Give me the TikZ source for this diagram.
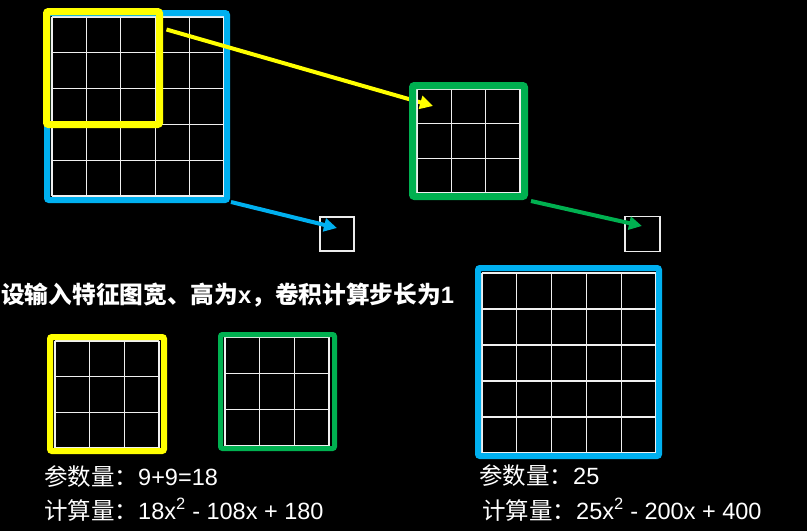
\documentclass[tikz,border=0pt]{standalone}
\usepackage{fontspec}
\setmainfont{Liberation Sans}
\newfontfamily\cjk{Noto Sans CJK SC}
\usepackage{xcolor}
\usetikzlibrary{arrows.meta, positioning, calc}
\definecolor{cyel}{HTML}{FFFF00}
\definecolor{cblue}{HTML}{00B0F0}
\definecolor{cgreen}{HTML}{00B050}
\tikzset{
    frame/.style={rectangle, rounded corners=2pt, inner sep=0pt, fill=none},
    cellline/.style={draw=white!88!gray, line width=1.3pt},
    unitbox/.style={rectangle, draw=white!85!gray, line width=1.5pt, minimum size=35pt, inner sep=0pt},
    arrow/.style={-{Triangle[length=13pt, width=13pt]}, line width=4pt},
    label/.style={inner sep=0pt, anchor=base west, text=white, font=\fontsize{23.5}{28}\selectfont}
}
% n x n grid of cells inside (x0,y0)-(x1,y1)
\newcommand{\cellgrid}[5]{%
    \foreach \k in {0,...,#5} {
        \draw[cellline] ({#1+(#3-#1)*\k/#5},#2) -- ({#1+(#3-#1)*\k/#5},#4);
        \draw[cellline] (#1,{#2+(#4-#2)*\k/#5}) -- (#3,{#2+(#4-#2)*\k/#5});
    }
}

\begin{document}
\begin{tikzpicture}[x=1pt, y=-1pt]
    \fill[black] (0,0) rectangle (807,531);
    \useasboundingbox (0,0) rectangle (807,531);

    % Input feature map 5x5
    \cellgrid{52}{17}{224}{196}{5}
    \node[frame, draw=cblue, line width=6pt, minimum width=180pt, minimum height=187pt] (fmap) at (137,106.5) {};
    \node[frame, draw=cyel, line width=7pt, minimum width=113pt, minimum height=113pt] (win) at (103,68) {};

    % Single outputs
    \node[unitbox, minimum size=34pt] (out1) at (337,234) {};
    \node[unitbox] (out2) at (642.5,234) {};

    % Connections
    \coordinate (ytail) at ([shift={(3.5,21.5)}]win.north east);
    \coordinate (yhead) at (433,106);
    \coordinate (bhead) at (337,228);
    \coordinate (ghead) at (642,226);
    \draw[arrow, cyel] (ytail) -- (yhead);
    \draw[arrow, cblue] ([shift={(1,-1)}]fmap.south east) -- (bhead);

    % Middle 3x3 map
    \cellgrid{417}{89}{520}{193}{3}
    \node[frame, draw=cgreen, line width=7pt, minimum width=112pt, minimum height=111pt] (mid) at (468.5,141) {};
    \draw[arrow, cgreen] ([shift={(3,1)}]mid.south east) -- (ghead);

    % Caption
    \node[label, font=\fontsize{23.7}{28}\selectfont\bfseries] (cap) at (1,303)
        {{\cjk 设输入特征图宽、高为}x{\cjk ，卷积计算步长为}1};

    % Two 3x3 kernels
    \cellgrid{55}{341}{159}{448}{3}
    \node[frame, draw=cyel, line width=6pt, minimum width=114pt, minimum height=114pt] (kone) at (107,394) {};
    \cellgrid{225}{337}{329}{446}{3}
    \node[frame, draw=cgreen, line width=5pt, minimum width=114pt, minimum height=114pt] (ktwo) at (277.5,391.5) {};
    \node[label] (pleft) at (44,485) {{\cjk 参数量：}9+9=18};
    \node[label] (cleft) at (44,519) {{\cjk 计算量：}18x\textsuperscript{2} - 108x + 180};

    % One 5x5 kernel
    \cellgrid{482}{273}{656}{453}{5}
    \node[frame, draw=cblue, line width=6pt, minimum width=181pt, minimum height=188pt] (kbig) at (568.5,362) {};
    \node[label] (pright) at (479,484) {{\cjk 参数量：}25};
    \node[label] (cright) at (482,519) {{\cjk 计算量：}25x\textsuperscript{2} - 200x + 400};
\end{tikzpicture}
\end{document}
